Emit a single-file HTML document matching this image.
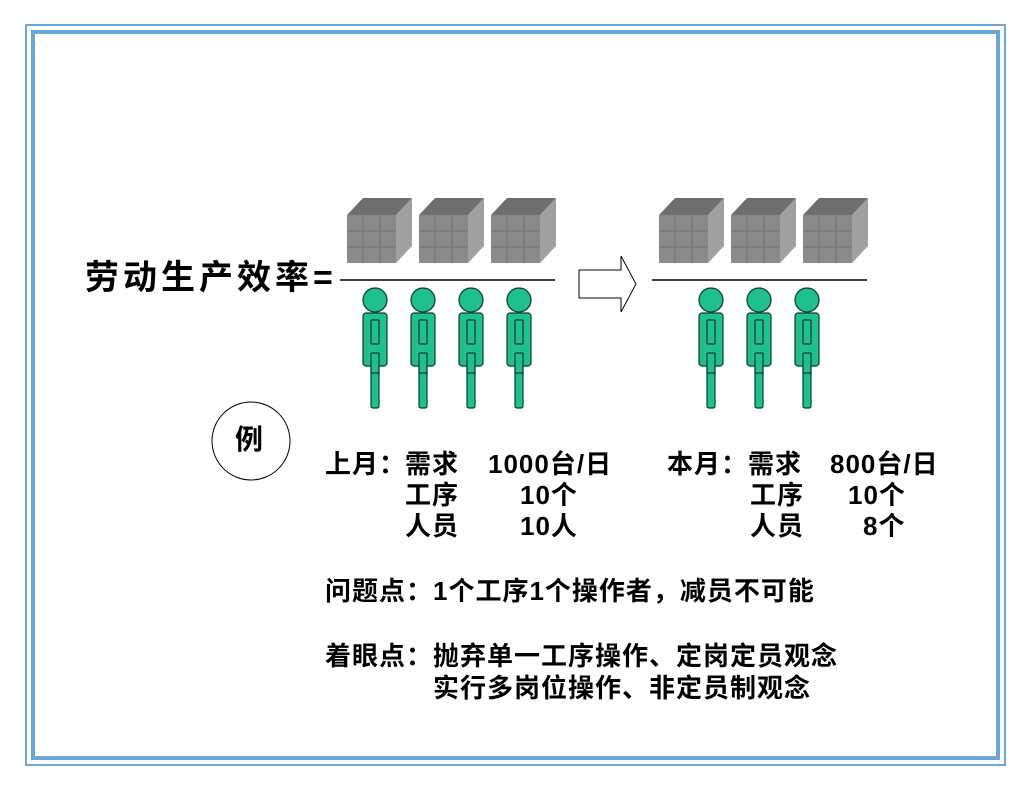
<!DOCTYPE html>
<html><head><meta charset="utf-8"><style>
body{margin:0;width:1030px;height:790px;background:#fff;position:relative;overflow:hidden;font-family:"Liberation Sans","Noto Sans CJK SC",sans-serif;font-weight:bold;color:#000}
.t{position:absolute;font-size:26px;line-height:31px;white-space:pre;letter-spacing:1px}
</style></head><body>
<svg width="1030" height="790" style="position:absolute;left:0;top:0">
<defs>
<g id="cube">
<polygon points="0,17 16,0 65,0 49,17" fill="#6e6e6e"/>
<rect x="0" y="17" width="49" height="48" fill="#8a8a8a"/>
<polygon points="49,17 65,0 65,48 49,65" fill="#a0a0a0"/>
<g stroke="#777" stroke-width="1.5"><line x1="16" y1="17" x2="16" y2="65"/><line x1="33" y1="17" x2="33" y2="65"/><line x1="0" y1="33" x2="49" y2="33"/><line x1="0" y1="49" x2="49" y2="49"/></g>
</g>
<g id="man" fill="#1fbf8f" stroke="#0a3a2a" stroke-width="1.2">
<rect x="-4" y="46" width="8" height="62" rx="2"/>
<rect x="-12" y="13" width="24" height="53" rx="3"/>
<rect x="-4" y="20" width="8" height="24" rx="1"/>
<rect x="-4" y="53" width="8" height="20" rx="1"/>
<circle cx="0" cy="0" r="12"/>
</g>
</defs>
<rect x="26" y="25" width="979" height="740" fill="none" stroke="#6aa8d8" stroke-width="2"/>
<rect x="33" y="32" width="965" height="726" fill="none" stroke="#6aa8d8" stroke-width="4"/>
<use href="#cube" x="347" y="198"/><use href="#cube" x="419" y="198"/><use href="#cube" x="491" y="198"/>
<use href="#cube" x="659" y="198"/><use href="#cube" x="731" y="198"/><use href="#cube" x="803" y="198"/>
<line x1="340" y1="280" x2="555" y2="280" stroke="#000" stroke-width="1.5"/>
<line x1="652" y1="280" x2="867" y2="280" stroke="#000" stroke-width="1.5"/>
<use href="#man" x="375" y="300"/><use href="#man" x="423" y="300"/><use href="#man" x="471" y="300"/><use href="#man" x="519" y="300"/>
<use href="#man" x="711" y="300"/><use href="#man" x="759" y="300"/><use href="#man" x="807" y="300"/>
<polygon points="579,270 621,270 621,256 636,284 621,312 621,298 579,298" fill="#fff" stroke="#000" stroke-width="1"/>
<circle cx="251" cy="441" r="39" fill="#fff" stroke="#000" stroke-width="1"/>
</svg>
<div class="t" style="left:85px;top:258px;font-size:34px;line-height:40px;letter-spacing:4px">劳动生产效率=</div>
<div class="t" style="left:235px;top:424px;font-size:28px">例</div>
<div class="t" style="left:325px;top:449px">上月：</div>
<div class="t" style="left:405px;top:449px">需求</div>
<div class="t" style="left:488px;top:449px">1000台/日</div>
<div class="t" style="left:405px;top:480px">工序</div>
<div class="t" style="left:520px;top:480px">10个</div>
<div class="t" style="left:405px;top:511px">人员</div>
<div class="t" style="left:520px;top:511px">10人</div>
<div class="t" style="left:667px;top:449px">本月：</div>
<div class="t" style="left:748px;top:449px">需求</div>
<div class="t" style="left:830px;top:449px">800台/日</div>
<div class="t" style="left:750px;top:480px">工序</div>
<div class="t" style="left:848px;top:480px">10个</div>
<div class="t" style="left:750px;top:511px">人员</div>
<div class="t" style="left:863px;top:511px">8个</div>
<div class="t" style="left:325px;top:576px">问题点：1个工序1个操作者，减员不可能</div>
<div class="t" style="left:325px;top:641px">着眼点：抛弃单一工序操作、定岗定员观念</div>
<div class="t" style="left:433px;top:673px">实行多岗位操作、非定员制观念</div>
</body></html>
